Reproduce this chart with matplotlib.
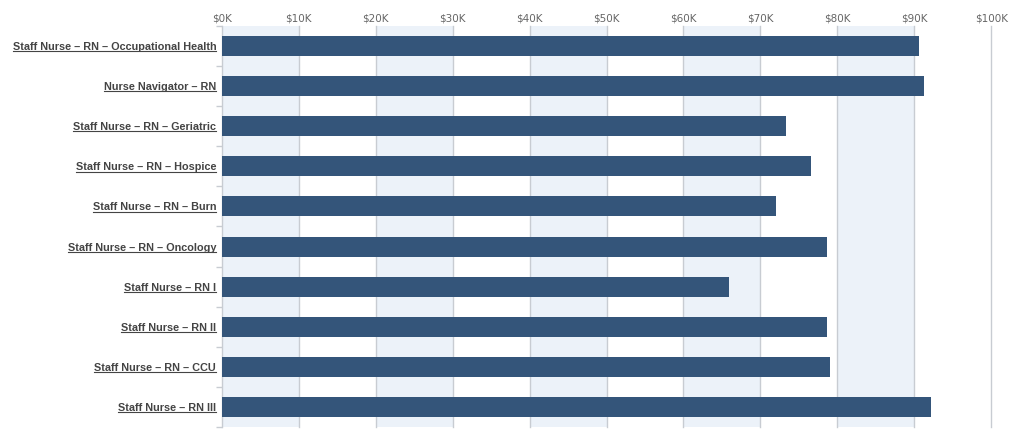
import matplotlib
matplotlib.use("Agg")
import matplotlib.pyplot as plt
from matplotlib.lines import Line2D
import numpy as np

categories = [
    "Staff Nurse \u2013 RN \u2013 Occupational Health",
    "Nurse Navigator \u2013 RN",
    "Staff Nurse \u2013 RN \u2013 Geriatric",
    "Staff Nurse \u2013 RN \u2013 Hospice",
    "Staff Nurse \u2013 RN \u2013 Burn",
    "Staff Nurse \u2013 RN \u2013 Oncology",
    "Staff Nurse \u2013 RN I",
    "Staff Nurse \u2013 RN II",
    "Staff Nurse \u2013 RN \u2013 CCU",
    "Staff Nurse \u2013 RN III",
]
salaries = [90600, 91200, 73300, 76600, 72000, 78700, 65900, 78700, 79100, 92100]
x_ticks = [0, 10000, 20000, 30000, 40000, 50000, 60000, 70000, 80000, 90000, 100000]
x_tick_labels = ["$0K", "$10K", "$20K", "$30K", "$40K", "$50K", "$60K", "$70K", "$80K", "$90K", "$100K"]

bar_color = "#34557a"
band_color = "#ecf2f9"
grid_color = "#c8ccd2"
label_color = "#444444"

fig = plt.figure(figsize=(10.24, 4.30), dpi=100)
ax = fig.add_axes([221.7 / 1024, 1 - 427 / 430, (991.3 - 221.7) / 1024, (427 - 26) / 430])

n = len(categories)
y = np.arange(n)

# alternating bands
for i in range(0, len(x_ticks) - 1, 2):
    ax.axvspan(x_ticks[i], x_ticks[i + 1], color=band_color, zorder=0, lw=0)
for xt in x_ticks:
    ax.axvline(xt, color=grid_color, lw=1, zorder=1, clip_on=False)

ax.barh(y, salaries, height=0.5, color=bar_color, zorder=2)

ax.set_xlim(0, 100000)
ax.set_ylim(n - 0.5, -0.5)
ax.xaxis.tick_top()
ax.set_xticks(x_ticks)
ax.set_xticklabels(x_tick_labels, fontsize=7.5, color="#666666", family="DejaVu Sans")
ax.tick_params(axis="x", length=0, pad=1.5)

ax.set_yticks(y)
ax.set_yticklabels(categories, fontsize=7.8, fontweight="bold", color=label_color,
                   family="Liberation Sans")
ax.tick_params(axis="y", length=0, pad=4)
# minor ticks at category boundaries
ax.set_yticks(np.arange(n + 1) - 0.5, minor=True)
ax.tick_params(axis="y", which="minor", length=4, color=grid_color, width=1)

for s in ax.spines.values():
    s.set_visible(False)

# underline the category labels
fig.canvas.draw()
renderer = fig.canvas.get_renderer()
for lbl in ax.get_yticklabels():
    bb = lbl.get_window_extent(renderer)
    yy = bb.y0 + 0.8
    fig.add_artist(Line2D([bb.x0 / fig.bbox.width, bb.x1 / fig.bbox.width],
                          [yy / fig.bbox.height, yy / fig.bbox.height],
                          transform=fig.transFigure, color=label_color, lw=0.8))

fig.savefig("out.png", dpi=100)
